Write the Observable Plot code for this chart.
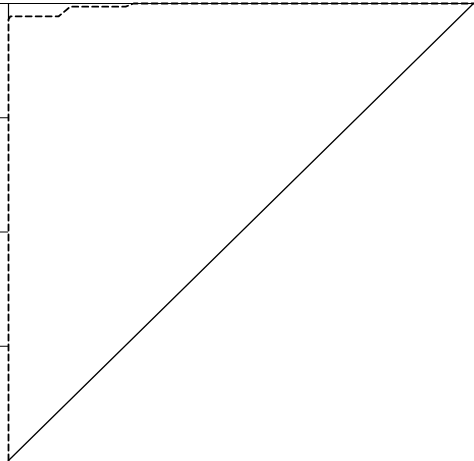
<!DOCTYPE html>
<html>
<head>
<meta charset="utf-8">
<script src="https://cdn.jsdelivr.net/npm/d3@7"></script>
<script src="https://cdn.jsdelivr.net/npm/@observablehq/plot@0.6"></script>
<style>
  html, body { margin: 0; padding: 0; background: #fff; }
  svg { display: block; }
</style>
</head>
<body>
<div id="chart"></div>
<script>
// ROC-style curve (dashed)
const rocFpr = [0, 0, 0.004, 0.108, 0.133, 0.252, 0.269, 1];
const rocTpr = [0, 0.965, 0.972, 0.972, 0.993, 0.993, 1, 1];
// chance diagonal
const diagX = [0, 1];
const diagY = [0, 1];
// y tick positions
const yTicks = [0.25, 0.5, 0.75, 1];

const roc = rocFpr.map((x, i) => ({x, y: rocTpr[i]}));
const diag = diagX.map((x, i) => ({x, y: diagY[i]}));

const chart = Plot.plot({
  width: 474,
  height: 461,
  marginLeft: 8,
  marginTop: 3,
  marginRight: 1,
  marginBottom: 1,
  x: {domain: [0, 1], axis: null},
  y: {domain: [0, 1], ticks: yTicks, tickSize: 8, tickFormat: () => "", label: null},
  marks: [
    Plot.ruleY([1], {stroke: "black", strokeWidth: 1.2}),
    Plot.ruleX([0], {y1: 0.96, y2: 1, stroke: "black", strokeWidth: 1.2}),
    Plot.line(diag, {x: "x", y: "y", stroke: "black", strokeWidth: 1.3}),
    Plot.line(roc, {x: "x", y: "y", stroke: "black", strokeWidth: 1.8, strokeDasharray: "6,4", curve: "linear"})
  ]
});
document.getElementById("chart").append(chart);
</script>
</body>
</html>
